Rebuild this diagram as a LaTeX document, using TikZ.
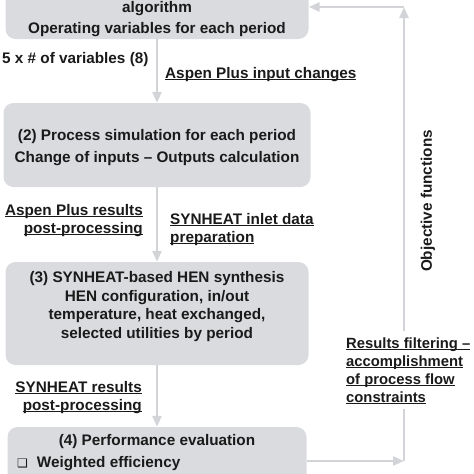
\documentclass[tikz,border=0pt]{standalone}
\usepackage{fontspec}
\setmainfont{Liberation Sans}
\newfontfamily\symfont{DejaVu Sans}
\usetikzlibrary{arrows.meta,positioning}

\definecolor{boxgray}{RGB}{217,219,222}
\definecolor{linegray}{RGB}{210,212,215}
\definecolor{inkgray}{RGB}{26,26,26}

% underline that sits just under the baseline
\newcommand{\ulined}[1]{\setbox0\hbox{#1}\rlap{\rule[-2.4pt]{\wd0}{1.2pt}}\box0}

\tikzset{
	stagebox/.style={fill=boxgray, rounded corners=10pt, inner sep=0pt},
	stagetext/.style={font=\bfseries\fontsize{15.3}{18.5}\selectfont, text=inkgray, align=center, inner sep=0pt},
	note/.style={font=\bfseries\fontsize{15.3}{18}\selectfont, text=inkgray, inner sep=0pt},
	flow/.style={draw=linegray, line width=2.6pt, -{Triangle[length=11pt,width=9pt]}},
	feedline/.style={draw=linegray, line width=2.6pt}
}

\begin{document}
\begin{tikzpicture}[x=1pt, y=-1pt]
	\useasboundingbox (0,0) rectangle (474,474);
	\clip (0,0) rectangle (474,474);

	% the four stages
	\node[stagebox, minimum width=303pt, minimum height=99pt] (b1) at (157,-10.5) {};
	\node[stagebox, minimum width=307pt, minimum height=84pt] (b2) at (157,145) {};
	\node[stagebox, minimum width=303pt, minimum height=103pt] (b3) at (157,313.5) {};
	\node[stagebox, minimum width=299pt, minimum height=93pt] (b4) at (157,473.5) {};

	% (base anchor = last line)
	\node[stagetext, font=\bfseries\fontsize{15.3}{21}\selectfont, anchor=base] (t1) at (157,33)
		{algorithm\\Operating variables for each period};
	\node[stagetext, font=\bfseries\fontsize{15.3}{22}\selectfont, anchor=base] (t2) at (157,162)
		{(2) Process simulation for each period\\Change of inputs -- Outputs calculation};
	\node[stagetext, anchor=base] (t3) at (157,338)
		{(3) SYNHEAT-based HEN synthesis\\HEN configuration, in/out\\temperature, heat exchanged,\\selected utilities by period};
	\node[stagetext, anchor=base] (t4) at (157,445) {(4) Performance evaluation};
	\node[stagetext, anchor=base west] (t4b) at (17,467) {{\symfont\fontsize{12}{12}\selectfont ❑}\hspace{9pt}Weighted efficiency};

	% forward flow
	\draw[flow] (b1) -- (b2);
	\draw[flow] (b2) -- (b3);
	\draw[flow] (b3) -- (b4);

	\node[note, anchor=base west] (varcount) at (2,63) {5 x \# of variables (8)};
	\node[note, anchor=base west] (inchange) at (165,78) {\ulined{Aspen Plus input changes}};
	\node[note, align=right, anchor=base east] (aspenpost) at (143,233)
		{\ulined{Aspen Plus results}\\\ulined{post-processing}};
	\node[note, align=left, anchor=base west] (synprep) at (170,242)
		{\ulined{SYNHEAT inlet data}\\\ulined{preparation}};
	\node[note, align=right, anchor=base east] (synpost) at (142,410)
		{\ulined{SYNHEAT results}\\\ulined{post-processing}};

	% feedback loop
	\coordinate (fbBot) at (404,461);
	\coordinate (fbTop) at (404,7);
	\node[note, font=\bfseries\fontsize{14.8}{18}\selectfont, align=left, anchor=base west] (filter) at (346,402)
		{\ulined{Results filtering --}\\\ulined{accomplishment}\\\ulined{of process flow}\\\ulined{constraints}};
	\node[note, rotate=90] (objfun) at (428,201) {Objective functions};

	\draw[flow] (b4.east |- fbBot) -- (fbBot);
	\draw[feedline] (fbBot) -- ([yshift=-4pt]fbBot |- filter.south);
	\draw[flow] ([yshift=6pt]fbBot |- filter.north) -- (fbTop);
	\draw[flow] (fbTop) -- (b1.east |- fbTop);
\end{tikzpicture}
\end{document}
